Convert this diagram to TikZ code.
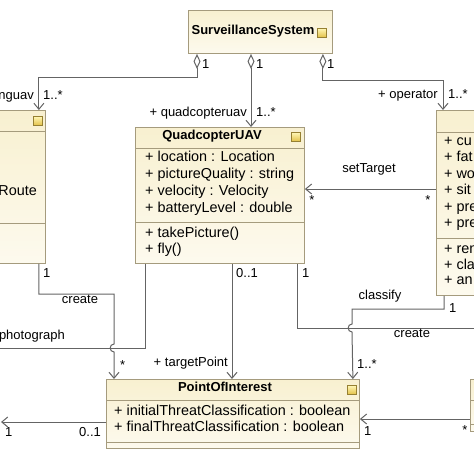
\documentclass[tikz,border=0pt]{standalone}
\usepackage{fontspec}
\setmainfont{Liberation Sans}
\usetikzlibrary{arrows.meta}
\definecolor{boxline}{RGB}{165,155,125}
\definecolor{boxtop}{RGB}{248,240,208}
\definecolor{boxbottom}{RGB}{253,250,238}
\definecolor{wiregray}{RGB}{100,100,100}
\definecolor{icontop}{RGB}{255,246,180}
\definecolor{iconbottom}{RGB}{226,192,70}
\definecolor{iconline}{RGB}{150,128,50}

\begin{document}
\begin{tikzpicture}[x=1pt,y=-1pt,
	classbox/.style={draw=boxline, line width=0.9pt, top color=boxtop, bottom color=boxbottom, anchor=north west, inner sep=0pt},
	sep/.style={draw=boxline, line width=0.9pt},
	icon/.style={draw=iconline, line width=0.6pt, top color=icontop, bottom color=iconbottom, minimum size=9pt, inner sep=0pt},
	title/.style={font=\fontsize{13}{15}\selectfont\bfseries, inner sep=0pt, anchor=mid},
	attr/.style={font=\fontsize{14.4}{17}\selectfont, inner sep=0pt, anchor=mid west},
	lbl/.style={font=\fontsize{13}{15}\selectfont, inner sep=0pt},
	assoc/.style={draw=wiregray, line width=1pt, -{Straight Barb[length=6pt,width=10pt]}},
	plain/.style={draw=wiregray, line width=1pt},
	agg/.style={draw=wiregray, line width=1pt, {Diamond[open,length=15pt,width=7pt]}-{Straight Barb[length=6pt,width=10pt]}}
]
\useasboundingbox (0,0) rectangle (474,474);
\fill[white] (0,0) rectangle (474,474);

% class boxes
\node[classbox, minimum width=144pt, minimum height=43pt] (sys) at (188,10) {};
\node[classbox, minimum width=75pt, minimum height=153pt] (route) at (-30,110) {};
\node[classbox, minimum width=169pt, minimum height=136pt] (quad) at (135,127) {};
\node[classbox, minimum width=70pt, minimum height=185pt] (oper) at (436,110) {};
\node[classbox, minimum width=253pt, minimum height=69pt] (poi) at (106,379) {};
\node[classbox, minimum width=40pt, minimum height=52pt] (extra) at (470,379) {};

% compartments
\draw[sep] ([yshift=-21pt]route.north west) -- ([yshift=-21pt]route.north east);
\draw[sep] ([yshift=-113pt]route.north west) -- ([yshift=-113pt]route.north east);
\draw[sep] ([yshift=-21pt]quad.north west) -- ([yshift=-21pt]quad.north east);
\draw[sep] ([yshift=-95pt]quad.north west) -- ([yshift=-95pt]quad.north east);
\draw[sep] ([yshift=-22pt]oper.north west) -- ([yshift=-22pt]oper.north east);
\draw[sep] ([yshift=-128pt]oper.north west) -- ([yshift=-128pt]oper.north east);
\draw[sep] ([yshift=-21pt]poi.north west) -- ([yshift=-21pt]poi.north east);
\draw[sep] ([yshift=-63pt]poi.north west) -- ([yshift=-63pt]poi.north east);
\draw[sep] ([yshift=-21pt]extra.north west) -- ([yshift=-21pt]extra.north east);
\draw[sep] ([yshift=-45pt]extra.north west) -- ([yshift=-45pt]extra.north east);

% names and icons
\node[title] (systitle) at (253,32) {SurveillanceSystem};
\node[title] (quadtitle) at (212,137) {QuadcopterUAV};
\node[title] (poititle) at (225,389) {PointOfInterest};
\node[icon] (sysicon) at (322,33) {};
\node[icon] (routeicon) at (38,121) {};
\node[icon] (quadicon) at (296,137) {};
\node[icon] (poiicon) at (352,390) {};

% attributes and operations
\node[attr, anchor=mid east] (routeattr) at (37,193) {Route};
\foreach \y/\txt [count=\i] in {159/{+ location : Location}, 176/{+ pictureQuality : string},
	193/{+ velocity : Velocity}, 210/{+ batteryLevel : double}, 235/{+ takePicture()}, 251/{+ fly()}}
	\node[attr] (qa\i) at (145,\y) {\txt};
\foreach \y/\txt [count=\i] in {143/{+ cu}, 159/{+ fat}, 176/{+ wo}, 192/{+ sit}, 209/{+ pre},
	225/{+ pre}, 251/{+ ren}, 267/{+ cla}, 282/{+ an}}
	\node[attr] (oa\i) at (444,\y) {\txt};
\node[attr] (pa1) at (114,413) {+ initialThreatClassification : boolean};
\node[attr] (pa2) at (114,429) {+ finalThreatClassification : boolean};

% loose ends
\coordinate (photoend) at (-5,348);
\coordinate (createend) at (480,328);
\coordinate (leftend) at (1,422);

% aggregations
\draw[agg] ([xshift=9pt]sys.south west) -- ++(0,24) -| ([xshift=-7pt]route.north east);
\draw[agg] ([xshift=63pt]sys.south west) -- ([xshift=116pt]quad.north west);
\draw[agg] ([xshift=-10pt]sys.south east) -- ++(0,27) -| ([xshift=7pt]oper.north west);
\node[lbl, anchor=mid west] (m1) at (202,66) {1};
\node[lbl, anchor=mid west] (m2) at (256,66) {1};
\node[lbl, anchor=mid west] (m3) at (327,66) {1};
\node[lbl, anchor=mid east] (r1) at (34,97) {nguav};
\node[lbl, anchor=mid west] (m4) at (43,97) {1..*};
\node[lbl, anchor=mid east] (r2) at (247,114) {+ quadcopteruav};
\node[lbl, anchor=mid west] (m5) at (256,114) {1..*};
\node[lbl, anchor=mid east] (r3) at (438,96) {+ operator};
\node[lbl, anchor=mid west] (m6) at (448,96) {1..*};

% associations
\draw[assoc] ([yshift=-79pt]oper.north west) -- ([yshift=-62pt]quad.north east);
\node[lbl, anchor=mid] (settarget) at (369,170) {setTarget};
\node[lbl, anchor=mid] (m7) at (312,202) {*};
\node[lbl, anchor=mid] (m8) at (428,202) {*};

\draw[assoc] ([xshift=-7pt]route.south east) |- (114,294) -- (114,344)
	.. controls (109,344) and (109,352) .. (114,352) -- ([xshift=8pt]poi.north west);
\node[lbl, anchor=mid west] (m9) at (43,275) {1};
\node[lbl, anchor=mid] (create1) at (80,301) {create};
\node[lbl, anchor=mid west] (m10) at (120,367) {*};

\draw[plain] ([xshift=10pt]quad.south west) |- (photoend);
\node[lbl, anchor=mid east] (r4) at (65,337) {photograph};

\draw[assoc] ([xshift=97pt]quad.south west) -- ([xshift=126pt]poi.north west);
\node[lbl, anchor=mid west] (m11) at (236,275) {0..1};
\node[lbl, anchor=mid east] (r5) at (228,364) {+ targetPoint};

\draw[plain] ([xshift=-7pt]quad.south east) |- (createend);
\node[lbl, anchor=mid west] (m12) at (302,275) {1};
\node[lbl, anchor=mid] (create2) at (412,335) {create};

\draw[assoc] ([xshift=8pt]oper.south west) |- (352,309) -- (352,324)
	.. controls (347,324) and (347,332) .. (352,332) -- ([xshift=-7pt]poi.north east);
\node[lbl, anchor=mid] (classify) at (380,297) {classify};
\node[lbl, anchor=mid west] (m13) at (449,310) {1};
\node[lbl, anchor=mid west] (m14) at (357,366) {1..*};

\draw[assoc] ([yshift=-40pt]extra.north west) -- ([yshift=-40pt]poi.north east);
\node[lbl, anchor=mid west] (m15) at (364,433) {1};
\node[lbl, anchor=mid] (m16) at (465,432) {*};

\draw[assoc] ([yshift=-43pt]poi.north west) -- (leftend);
\node[lbl, anchor=mid west] (m17) at (5,434) {1};
\node[lbl, anchor=mid west] (m18) at (79,434) {0..1};
\end{tikzpicture}
\end{document}
